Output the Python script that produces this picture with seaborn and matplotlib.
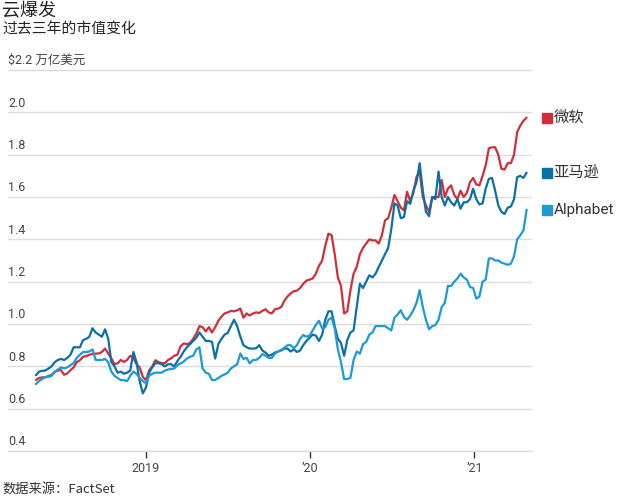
import numpy as np
import pandas as pd
import matplotlib
matplotlib.use("Agg")
import matplotlib.pyplot as plt
import seaborn as sns

# market value, trillion USD, read weekly from 2018-05-01 to 2021-04-27
companies = ["微软", "亚马逊", "Alphabet"]
colors = ["#cf2f3b", "#0a70a6", "#1b9ad6"]
dates = pd.date_range("2018-05-01", periods=157, freq="7D")

msft = [0.735, 0.745, 0.748, 0.748, 0.754, 0.760, 0.774, 0.780, 0.782, 0.760,
        0.767, 0.782, 0.795, 0.820, 0.829, 0.845, 0.848, 0.855, 0.858, 0.860,
        0.861, 0.868, 0.884, 0.861, 0.837, 0.810, 0.814, 0.830, 0.821, 0.830,
        0.850, 0.840, 0.810, 0.795, 0.750, 0.735, 0.780, 0.800, 0.829, 0.820,
        0.815, 0.815, 0.830, 0.838, 0.850, 0.855, 0.895, 0.908, 0.905, 0.910,
        0.930, 0.955, 0.990, 0.985, 0.965, 0.985, 0.960, 0.985, 1.015, 1.035,
        1.050, 1.055, 1.062, 1.060, 1.065, 1.073, 1.030, 1.050, 1.040, 1.050,
        1.055, 1.052, 1.062, 1.070, 1.055, 1.050, 1.070, 1.073, 1.080, 1.110,
        1.130, 1.145, 1.155, 1.158, 1.170, 1.190, 1.205, 1.210, 1.215, 1.238,
        1.275, 1.300, 1.370, 1.427, 1.420, 1.330, 1.220, 1.180, 1.050, 1.060,
        1.160, 1.238, 1.270, 1.330, 1.360, 1.380, 1.400, 1.395, 1.395, 1.380,
        1.420, 1.490, 1.500, 1.550, 1.610, 1.580, 1.550, 1.537, 1.625, 1.580,
        1.620, 1.695, 1.720, 1.600, 1.560, 1.530, 1.600, 1.600, 1.600, 1.680,
        1.600, 1.640, 1.655, 1.610, 1.590, 1.630, 1.600, 1.620, 1.670, 1.690,
        1.660, 1.655, 1.700, 1.750, 1.830, 1.835, 1.835, 1.800, 1.733, 1.730,
        1.760, 1.760, 1.800, 1.906, 1.938, 1.960, 1.975]

amzn = [0.758, 0.775, 0.779, 0.780, 0.790, 0.800, 0.820, 0.830, 0.835, 0.830,
        0.840, 0.855, 0.890, 0.890, 0.890, 0.924, 0.930, 0.940, 0.980, 0.960,
        0.950, 0.940, 0.975, 0.930, 0.820, 0.800, 0.770, 0.775, 0.765, 0.770,
        0.780, 0.868, 0.820, 0.730, 0.672, 0.700, 0.770, 0.795, 0.815, 0.815,
        0.810, 0.800, 0.810, 0.810, 0.800, 0.825, 0.845, 0.870, 0.890, 0.905,
        0.920, 0.935, 0.960, 0.940, 0.920, 0.920, 0.915, 0.837, 0.905, 0.930,
        0.950, 0.958, 0.990, 1.020, 0.990, 0.940, 0.900, 0.890, 0.884, 0.884,
        0.885, 0.900, 0.875, 0.865, 0.850, 0.855, 0.865, 0.870, 0.875, 0.884,
        0.884, 0.870, 0.880, 0.868, 0.875, 0.900, 0.920, 0.935, 0.950, 0.945,
        0.920, 0.950, 1.020, 1.060, 1.060, 0.990, 0.930, 0.910, 0.850, 0.924,
        0.960, 0.970, 1.080, 1.190, 1.170, 1.200, 1.230, 1.220, 1.238, 1.270,
        1.300, 1.330, 1.360, 1.450, 1.570, 1.560, 1.500, 1.505, 1.580, 1.568,
        1.630, 1.670, 1.760, 1.630, 1.530, 1.510, 1.600, 1.590, 1.720, 1.600,
        1.560, 1.600, 1.575, 1.560, 1.590, 1.545, 1.575, 1.575, 1.590, 1.639,
        1.590, 1.565, 1.570, 1.640, 1.686, 1.690, 1.630, 1.560, 1.530, 1.520,
        1.550, 1.555, 1.590, 1.694, 1.700, 1.690, 1.715]

googl = [0.716, 0.730, 0.740, 0.750, 0.750, 0.755, 0.774, 0.785, 0.795, 0.790,
         0.795, 0.806, 0.815, 0.840, 0.855, 0.868, 0.868, 0.870, 0.880, 0.830,
         0.830, 0.830, 0.835, 0.820, 0.775, 0.755, 0.745, 0.735, 0.735, 0.730,
         0.755, 0.775, 0.765, 0.745, 0.730, 0.720, 0.755, 0.765, 0.770, 0.770,
         0.770, 0.780, 0.785, 0.788, 0.790, 0.806, 0.814, 0.822, 0.837, 0.845,
         0.850, 0.880, 0.890, 0.790, 0.770, 0.765, 0.735, 0.735, 0.745, 0.755,
         0.762, 0.770, 0.790, 0.800, 0.810, 0.861, 0.835, 0.840, 0.814, 0.830,
         0.830, 0.840, 0.858, 0.850, 0.840, 0.840, 0.860, 0.870, 0.878, 0.888,
         0.900, 0.900, 0.885, 0.900, 0.930, 0.948, 0.940, 0.945, 0.970, 0.995,
         1.015, 0.980, 0.985, 1.020, 1.030, 0.980, 0.880, 0.820, 0.740, 0.740,
         0.745, 0.830, 0.870, 0.860, 0.905, 0.915, 0.950, 0.960, 0.990, 0.990,
         0.990, 0.990, 0.980, 0.970, 1.030, 1.045, 1.065, 1.033, 1.020, 1.040,
         1.065, 1.100, 1.160, 1.080, 1.020, 0.975, 0.990, 0.995, 1.020, 1.080,
         1.100, 1.180, 1.180, 1.200, 1.215, 1.238, 1.220, 1.210, 1.175, 1.170,
         1.120, 1.130, 1.200, 1.210, 1.310, 1.310, 1.300, 1.300, 1.290, 1.285,
         1.280, 1.285, 1.320, 1.400, 1.420, 1.443, 1.540]

y_ticks = [0.4, 0.6, 0.8, 1.0, 1.2, 1.4, 1.6, 1.8, 2.0, 2.2]
y_labels = ["0.4", "0.6", "0.8", "1.0", "1.2", "1.4", "1.6", "1.8", "2.0", "$2.2 万亿美元"]
x_ticks = pd.to_datetime(["2019-01-01", "2020-01-01", "2021-01-01"])
x_labels = ["2019", "\u201920", "\u201921"]

sns.set_theme(style="white")
plt.rcParams["font.family"] = ["Noto Sans CJK SC", "DejaVu Sans"]
num_font = ["Roboto", "Noto Sans CJK SC", "DejaVu Sans"]

df = pd.DataFrame({
    "date": np.tile(dates, 3),
    "company": np.repeat(companies, len(dates)),
    "value": msft + amzn + googl,
})

fig = plt.figure(figsize=(6.2, 5), dpi=100)
ax = fig.add_axes([8 / 620, 49 / 500, 524 / 620, 381.6 / 500])

sns.lineplot(data=df, x="date", y="value", hue="company", hue_order=companies,
             palette=dict(zip(companies, colors)), linewidth=1.6, legend=False, ax=ax)

ax.set_xlim(pd.Timestamp("2018-02-28"), pd.Timestamp("2021-05-09"))
ax.set_ylim(0.4, 2.203)
ax.set_yticks(y_ticks)
ax.set_yticklabels([])
ax.grid(axis="y", color="#dcdcdc", linewidth=1)
ax.grid(axis="x", visible=False)
ax.set_axisbelow(True)
for side in ["top", "right", "left"]:
    ax.spines[side].set_visible(False)
ax.spines["bottom"].set_color("#dcdcdc")
ax.spines["bottom"].set_linewidth(1)
ax.tick_params(axis="y", left=False, length=0)
ax.set_xlabel("")
ax.set_ylabel("")

ax.set_xticks(x_ticks)
ax.set_xticklabels(x_labels)
ax.tick_params(axis="x", bottom=True, length=5, width=1, color="#333333",
               labelsize=9, labelcolor="#444444", pad=3)
for lbl in ax.get_xticklabels():
    lbl.set_family(num_font)

ytr = ax.get_yaxis_transform()
for v, lab in zip(y_ticks, y_labels):
    ax.annotate(lab, xy=(0, v), xycoords=ytr, xytext=(0, 2), textcoords="offset points",
                ha="left", va="bottom", fontsize=9, color="#444444", family=num_font)

# labels at the end of each line
for name, col, vals in zip(companies, colors, [msft, amzn, googl]):
    ax.plot([1.0277], [vals[-1]], marker="s", ms=6.5, color=col, transform=ytr, clip_on=False)
    ax.annotate(name, xy=(1.0277, vals[-1]), xycoords=ytr, xytext=(5, 0),
                textcoords="offset points", ha="left", va="center", fontsize=11,
                color="#333333", family=num_font)

fig.text(2 / 620, 1 - 2 / 500, "云爆发", va="top", ha="left", fontsize=13, color="#222222")
fig.text(2 / 620, 1 - 23 / 500, "过去三年的市值变化", va="top", ha="left", fontsize=10.7, color="#222222")
fig.text(2 / 620, 1 - 483 / 500, "数据来源：FactSet", va="top", ha="left", fontsize=9.5, color="#333333")

fig.savefig("out.png", dpi=100)
